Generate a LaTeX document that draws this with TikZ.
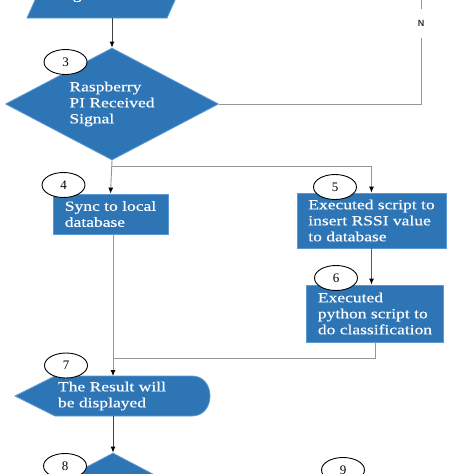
\documentclass[tikz,border=0pt]{standalone}
\usepackage{fontspec}
\setmainfont{Liberation Serif}
\newfontfamily\boxfont[FakeStretch=1.25,FakeBold=0.4]{Liberation Serif}
\newfontfamily\labelfont{Liberation Sans}
\usetikzlibrary{shapes.geometric,arrows.meta}
\definecolor{flowblue}{RGB}{46,117,182}
\definecolor{edgeblue}{RGB}{91,155,213}
\definecolor{linegray}{RGB}{150,150,150}

\begin{document}
\begin{tikzpicture}[x=1pt,y=-1pt,
    proc/.style={rectangle,fill=flowblue,draw=edgeblue,line width=0.8pt,text=white,align=left,inner sep=0pt,font=\boxfont\fontsize{14}{16}\selectfont},
    decision/.style={diamond,fill=flowblue,draw=edgeblue,line width=0.8pt,minimum width=213pt,minimum height=112pt,inner sep=0pt},
    boxtext/.style={text=white,align=left,inner sep=0pt,font=\boxfont\fontsize{14}{16}\selectfont},
    stepnum/.style={ellipse,draw=black,fill=white,line width=0.9pt,minimum width=43pt,minimum height=25pt,inner sep=0pt,font=\fontsize{13}{13}\selectfont},
    flow/.style={draw=linegray,line width=0.9pt,-{Latex[length=6pt,width=5pt,black]}},
    link/.style={draw=linegray,line width=0.9pt}]
    \useasboundingbox (0,0) rectangle (474,474);
    \fill[white] (0,0) rectangle (474,474);

    \draw[fill=flowblue,draw=edgeblue,line width=0.8pt] (27,18) -- (167,18) -- (193,-40) -- (53,-40) -- cycle;
    \node[boxtext,anchor=base west] (sig) at (58,-1) {Signal};
    \coordinate (inbot) at (112,18);

    \node[decision] (dec3) at (112,104) {};
    \node[boxtext] (dec3txt) at (dec3.center) {Raspberry\\PI Received\\Signal};

    \node[proc,minimum width=115pt,minimum height=40pt] (box4) at (110.5,214) {Sync to local\\database};
    \node[proc,minimum width=149pt,minimum height=55pt] (box5) at (371.5,220.5) {Executed script to\\insert RSSI value\\to database};
    \node[proc,minimum width=137pt,minimum height=57pt] (box6) at (375,313.5) {Executed\\python script to\\do classification};

    \draw[fill=flowblue,draw=edgeblue,line width=0.8pt] (15,396) -- (55,376) -- (192,376) .. controls (216,376) and (216,416) .. (192,416) -- (55,416) -- cycle;
    \node[boxtext] (disp) at (112,396) {The Result will\\be displayed};
    \coordinate (disptop) at (113,376);
    \coordinate (dispbot) at (113,416);
    \coordinate (merge) at (113,358);

    \node[decision] (dec8) at (113,509) {};

    \node[font=\labelfont\bfseries\fontsize{9}{9}\selectfont,text=black!80,inner sep=0pt,minimum height=29pt] (nlab) at (421,23.5) {N};

    \draw[flow,draw=black!75] (inbot) -- (dec3.north);
    \draw[link] (dec3.east) -| (nlab.south);
    \draw[link] (nlab.north) -- ++(0,-20);
    \draw[flow] (dec3.south) -- (box4.north);
    \draw[flow] (dec3.south) ++(0,6) -| (box5.north);
    \draw[flow,draw=black!65] (box5.south) -- (box5.south |- box6.north);
    \draw[flow] (disptop |- box4.south) -- (disptop);
    \draw[link] (box6.south) |- (merge);
    \draw[flow,draw=black!75] (dispbot) -- (dec8.north);

    \node[stepnum] (n3) at (65.5,62) {3};
    \node[stepnum] (n4) at (63.5,185) {4};
    \node[stepnum] (n5) at (335,187) {5};
    \node[stepnum] (n6) at (336,278) {6};
    \node[stepnum] (n7) at (66,365.5) {7};
    \node[stepnum] (n8) at (65,466) {8};
    \node[stepnum] (n9) at (343,470) {9};
\end{tikzpicture}
\end{document}
